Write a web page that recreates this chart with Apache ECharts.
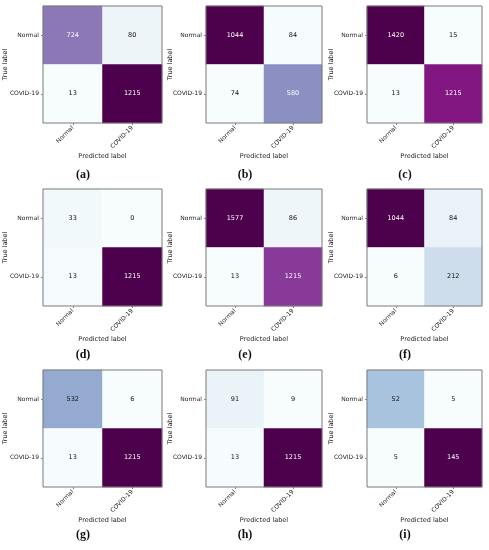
<!DOCTYPE html>
<html>
<head>
<meta charset="utf-8">
<script src="https://cdn.jsdelivr.net/npm/echarts@6.0.0/dist/echarts.min.js"></script>
<style>
html,body{margin:0;padding:0;background:#fff;}
#chart{width:489px;height:550px;}
</style>
</head>
<body>
<div id="chart"></div>
<script>
// categories
const categories = ['Normal', 'COVID-19'];
const panelNames = ['(a)', '(b)', '(c)', '(d)', '(e)', '(f)', '(g)', '(h)', '(i)'];
const axisNameX = 'Predicted label';
const axisNameY = 'True label';
// confusion matrices: rows = true label (Normal, COVID-19), cols = predicted label
const matA = [[724, 80], [13, 1215]];
const matB = [[1044, 84], [74, 580]];
const matC = [[1420, 15], [13, 1215]];
const matD = [[33, 0], [13, 1215]];
const matE = [[1577, 86], [13, 1215]];
const matF = [[1044, 84], [6, 212]];
const matG = [[532, 6], [13, 1215]];
const matH = [[91, 9], [13, 1215]];
const matI = [[52, 5], [5, 145]];
const matrices = [matA, matB, matC, matD, matE, matF, matG, matH, matI];

// BuPu colormap
const BuPu = ['#f7fcfd', '#e0ecf4', '#bfd3e6', '#9ebcda', '#8c96c6', '#8c6bb1', '#88419d', '#810f7c', '#4d004b'];

// layout
const colLeft = [43, 206, 367];
const colWidth = [119, 116, 115];
const rowTop = [6, 189, 370];
const rowHeight = [117, 117, 117];
const captionX = [83, 245, 405];
const captionY = [175, 355, 535];
const yNameGap = [34, 32, 32];

const grids = [], xAxes = [], yAxes = [], series = [], visualMaps = [], graphics = [];
matrices.forEach((m, i) => {
  const r = Math.floor(i / 3), c = i % 3;
  grids.push({
    left: colLeft[c], top: rowTop[r], width: colWidth[c], height: rowHeight[r],
    outerBoundsMode: 'none', containLabel: false,
    show: true, borderColor: '#7a7a7a', borderWidth: 1, z: 10, backgroundColor: 'transparent'
  });
  xAxes.push({
    type: 'category', gridIndex: i, data: categories,
    name: axisNameX, nameLocation: 'middle', nameGap: 30, nameMoveOverlap: false,
    nameTextStyle: { fontFamily: 'DejaVu Sans', fontSize: 6.5, color: '#222' },
    axisLine: { show: false },
    axisTick: { show: true, alignWithLabel: true, length: 2, lineStyle: { color: '#333', width: 0.6 } },
    axisLabel: { rotate: 45, fontFamily: 'DejaVu Sans', fontSize: 6, color: '#222', margin: 4 },
    splitLine: { show: false }
  });
  yAxes.push({
    type: 'category', gridIndex: i, data: categories, inverse: true,
    name: axisNameY, nameLocation: 'middle', nameGap: yNameGap[c], nameRotate: 90, nameMoveOverlap: false,
    nameTextStyle: { fontFamily: 'DejaVu Sans', fontSize: 6.5, color: '#222' },
    axisLine: { show: false },
    axisTick: { show: true, alignWithLabel: true, length: 2, lineStyle: { color: '#333', width: 0.6 } },
    axisLabel: { fontFamily: 'DejaVu Sans', fontSize: 6, color: '#222', margin: 4 },
    splitLine: { show: false }
  });
  const flat = m.flat();
  const vmax = Math.max(...flat), vmin = Math.min(...flat);
  const data = [];
  m.forEach((row, ri) => row.forEach((v, ci) => {
    data.push({ value: [ci, ri, v], label: { color: v > vmax / 2 ? '#ffffff' : '#111111' } });
  }));
  series.push({
    type: 'heatmap', xAxisIndex: i, yAxisIndex: i, data: data,
    label: { show: true, fontFamily: 'DejaVu Sans', fontSize: 6.5 },
    itemStyle: { borderWidth: 0 },
    emphasis: { disabled: true }
  });
  visualMaps.push({
    type: 'continuous', show: false, seriesIndex: i, dimension: 2,
    min: vmin, max: vmax, inRange: { color: BuPu }
  });
  graphics.push({
    type: 'text', x: captionX[c], y: captionY[r],
    style: { text: panelNames[i], font: 'bold 12px "Liberation Serif"', fill: '#111', align: 'center', verticalAlign: 'middle' }
  });
});

const chart = echarts.init(document.getElementById('chart'), null, { renderer: 'canvas' });
chart.setOption({
  animation: false,
  backgroundColor: '#fff',
  grid: grids,
  xAxis: xAxes,
  yAxis: yAxes,
  visualMap: visualMaps,
  series: series,
  graphic: graphics
});
</script>
</body>
</html>
